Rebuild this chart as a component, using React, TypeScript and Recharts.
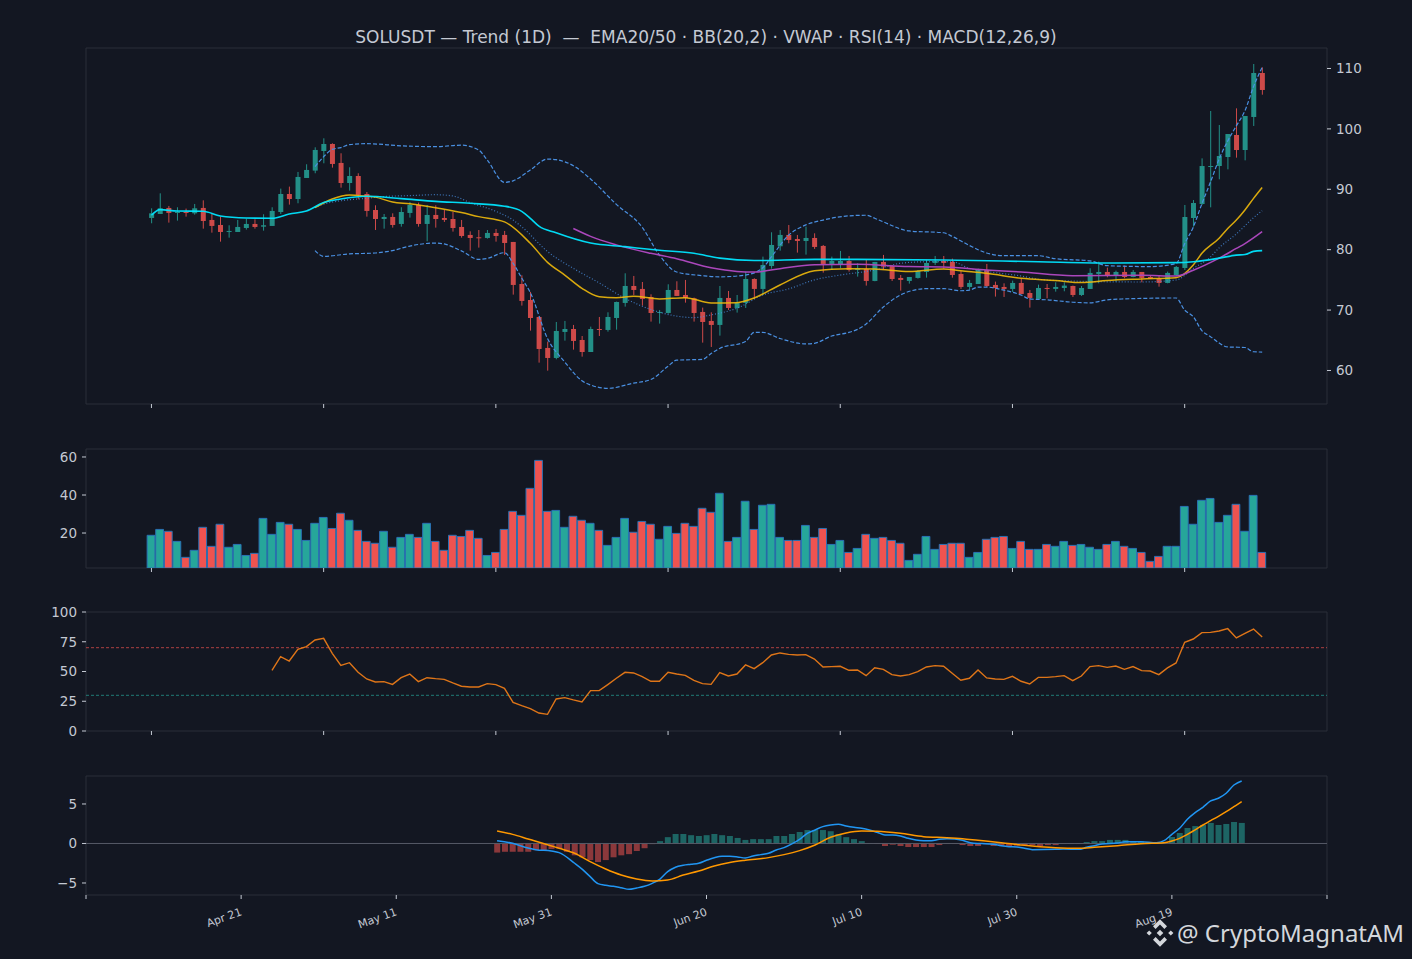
import React from 'react';
import {
    Bar,
    Cell,
    ComposedChart,
    Line,
    ReferenceArea,
    ReferenceLine,
    XAxis,
    YAxis
} from 'recharts';

const opens = [
    85.25, 85.91, 86.91, 86.08, 86.24, 86.02, 86.91, 84.92, 84.09, 82.99,
    82.93, 83.59, 84.26, 83.81, 83.93, 86.24, 89.22, 88.39, 91.87, 93.09,
    96.34, 97.5, 94.36, 91.04, 92.2, 89.22, 86.57, 85.08, 85.42, 84.26,
    86.08, 87.4, 84.26, 85.75, 85.25, 85.08, 83.76, 82.44, 82.05, 81.94,
    82.77, 82.44, 81.28, 74.32, 71.67, 68.86, 63.73, 62.07, 66.38, 66.87,
    65.05, 63.06, 66.87, 66.71, 68.69, 71.18, 73.99, 73.5, 72.17, 69.58,
    69.52, 73.33, 72.5, 71.95, 69.69, 68.2, 67.54, 72.01, 70.35, 71.18,
    75.15, 73.5, 77.3, 80.56, 82.44, 81.77, 81.44, 81.94, 80.62, 77.64,
    77.58, 78.13, 76.64, 76.81, 74.82, 77.97, 77.3, 75.32, 74.82, 75.32,
    76.31, 77.8, 78.13, 77.97, 75.98, 73.83, 74.32, 76.64, 74.16, 73.83,
    73.5, 74.49, 72.83, 71.84, 73.66, 73.5, 73.66, 73.99, 72.5, 73.5,
    75.98, 76.31, 75.81, 76.31, 75.48, 76.31, 75.48, 75.21, 74.49, 75.81,
    76.97, 85.24, 87.56, 93.74, 93.85, 95.34, 98.99, 96.5, 101.97, 109.25
];
const closes = [
    86.02, 86.85, 86.08, 86.3, 86.08, 86.85, 84.75, 83.93, 82.93, 83.1,
    83.76, 84.26, 83.76, 84.04, 86.41, 89.22, 88.39, 92.04, 93.2, 96.51,
    97.5, 94.19, 91.04, 92.2, 89.06, 86.41, 85.08, 85.42, 84.09, 86.24,
    87.4, 84.26, 85.75, 85.08, 84.92, 83.59, 82.27, 81.94, 81.99, 82.77,
    82.27, 81.11, 74.16, 71.51, 68.69, 63.56, 62.07, 66.54, 66.87, 64.89,
    63.06, 66.87, 66.76, 68.86, 71.34, 73.99, 73.33, 71.84, 69.52, 69.69,
    73.33, 72.34, 72.01, 69.52, 68.03, 67.54, 72.01, 70.35, 71.18, 75.15,
    73.5, 77.47, 80.78, 82.44, 81.61, 81.44, 81.94, 80.45, 77.64, 78.13,
    78.13, 76.64, 76.92, 74.82, 77.97, 77.19, 75.15, 74.99, 75.48, 76.48,
    77.8, 78.13, 77.8, 75.81, 73.83, 74.49, 76.64, 73.99, 73.66, 73.5,
    74.49, 72.67, 72.01, 73.66, 73.55, 73.83, 74.05, 72.5, 73.66, 76.15,
    76.31, 75.65, 76.31, 75.48, 76.31, 75.32, 75.21, 74.49, 76.15, 77.14,
    85.41, 87.73, 93.85, 93.85, 95.51, 99.15, 96.5, 102.13, 109.25, 106.44
];
const highs = [
    86.85, 89.33, 87.24, 87.02, 86.8, 87.57, 88.17, 85.91, 85.47, 84.04,
    84.92, 85.14, 85.03, 85.86, 87.02, 90.11, 90.44, 92.87, 94.14, 96.95,
    98.44, 97.61, 95.96, 93.64, 92.65, 89.55, 87.35, 85.91, 86.02, 87.02,
    87.9, 87.79, 87.4, 87.35, 86.57, 86.24, 84.92, 83.04, 83.26, 83.26,
    83.43, 83.1, 81.28, 75.76, 73.0, 68.92, 64.78, 68.03, 68.2, 67.54,
    65.71, 67.26, 68.86, 69.63, 71.4, 76.09, 75.65, 74.65, 72.61, 70.02,
    74.27, 74.77, 74.99, 72.06, 70.41, 69.63, 73.99, 73.16, 72.5, 76.37,
    75.26, 78.85, 82.88, 83.26, 84.09, 82.44, 83.82, 82.71, 80.78, 78.85,
    79.79, 78.96, 77.75, 78.3, 77.97, 79.13, 77.47, 75.81, 75.48, 76.64,
    78.3, 78.96, 78.96, 78.52, 76.48, 74.99, 76.86, 77.64, 74.71, 74.43,
    74.88, 75.15, 73.33, 74.21, 74.32, 74.6, 74.6, 74.05, 73.99, 76.92,
    78.02, 77.03, 76.53, 77.36, 76.64, 76.31, 75.65, 75.81, 76.37, 77.3,
    87.4, 88.22, 95.12, 102.96, 100.64, 99.15, 103.4, 102.13, 110.74, 110.19
];
const lows = [
    84.37, 85.91, 84.48, 84.81, 85.47, 85.8, 83.48, 82.82, 81.33, 81.99,
    82.93, 83.32, 83.48, 83.15, 83.93, 85.91, 87.46, 87.68, 91.87, 92.65,
    94.3, 93.58, 90.27, 89.78, 88.34, 85.47, 83.26, 83.48, 83.65, 83.81,
    85.31, 83.81, 81.39, 83.65, 84.59, 82.99, 81.99, 79.84, 80.34, 81.83,
    81.33, 79.12, 72.56, 70.74, 66.6, 61.3, 59.97, 61.85, 64.94, 63.45,
    62.29, 63.06, 65.71, 66.43, 66.76, 70.57, 72.5, 70.74, 68.09, 67.76,
    69.41, 72.34, 71.23, 68.09, 64.61, 63.89, 65.77, 70.02, 69.58, 70.35,
    71.84, 72.5, 76.86, 79.84, 81.06, 79.51, 79.18, 80.12, 76.2, 76.64,
    76.92, 76.37, 75.54, 74.05, 74.77, 76.75, 74.82, 73.22, 74.38, 75.21,
    75.37, 77.47, 76.86, 75.37, 73.5, 73.39, 74.32, 73.83, 72.23, 72.17,
    73.0, 72.67, 70.41, 71.84, 71.95, 73.05, 73.11, 72.17, 72.34, 73.5,
    74.43, 75.43, 74.71, 75.26, 75.43, 74.6, 75.15, 73.88, 74.43, 75.65,
    76.63, 83.81, 87.4, 87.01, 91.65, 93.3, 95.23, 94.79, 100.48, 105.66
];
const volumes = [
    18.8, 21.9, 20.9, 15.6, 7.2, 10.9, 23.0, 13.0, 24.6, 12.5,
    14.0, 8.2, 9.3, 27.7, 19.3, 25.6, 24.6, 21.9, 16.1, 25.1,
    28.2, 22.4, 30.4, 26.7, 21.4, 15.6, 14.6, 20.9, 12.5, 17.7,
    19.3, 17.7, 25.1, 15.6, 10.9, 18.8, 18.2, 21.4, 17.2, 8.2,
    9.8, 21.9, 31.4, 29.3, 43.5, 58.2, 31.4, 31.9, 23.0, 28.8,
    26.7, 25.1, 21.4, 13.5, 17.7, 27.7, 20.4, 26.1, 24.6, 16.7,
    23.5, 19.8, 25.1, 23.5, 33.0, 30.9, 40.9, 15.6, 17.7, 36.7,
    21.9, 34.6, 35.1, 17.7, 16.1, 16.1, 24.0, 17.7, 22.4, 14.0,
    16.1, 9.8, 11.9, 19.3, 17.2, 17.7, 16.1, 14.6, 5.6, 8.8,
    18.2, 11.4, 14.0, 14.6, 14.6, 7.2, 9.8, 16.7, 17.7, 18.2,
    11.9, 15.6, 11.4, 11.4, 14.0, 13.0, 15.6, 13.5, 14.0, 12.5,
    11.4, 14.0, 15.6, 13.0, 11.9, 9.8, 5.1, 7.7, 13.0, 13.0,
    34.0, 24.6, 37.2, 38.2, 25.6, 29.3, 35.1, 20.9, 39.8, 9.8
];
const rsiStart = 14;
const rsiValues = [
    51, 62.5, 58.8, 68.6, 70.9, 76.5, 77.9, 65.3, 55.2, 57.4,
    49.3, 43.7, 41.2, 41.5, 39.2, 44.8, 47.9, 41.5, 44.8, 44,
    43.4, 40.4, 37.6, 37, 37, 39.8, 39, 35.9, 24.1, 21.3,
    18.8, 15.1, 14, 26.9, 28, 26.1, 24.4, 33.9, 33.9, 39,
    44.3, 49.3, 48.8, 45.7, 41.8, 41.8, 49.3, 47.9, 46.8, 42.6,
    39.8, 39.2, 49, 46.2, 47.9, 55.5, 52.4, 57.4, 63.9, 65.6,
    64.4, 63.9, 64.2, 60.5, 53.8, 54.1, 54.4, 51, 51.3, 46.5,
    53.2, 51.8, 47.4, 46.2, 47.4, 49.9, 53.8, 54.9, 54.4, 48.5,
    42.6, 44.3, 51.3, 44.6, 43.7, 43.4, 45.9, 41.8, 39.5, 45.1,
    45.1, 45.7, 46.5, 42.3, 46.2, 54.1, 54.9, 53.5, 54.6, 51.8,
    54.1, 50.7, 50.4, 47.4, 53, 57.2, 74.5, 77.3, 82.7, 82.9,
    84, 86, 78.2, 82.1, 85.7, 79
];

// [candle index, value] at the points where the curve bends
const vwapPts = [
    [0, 85.7], [1, 86.63], [3, 86.4], [6, 86.35], [8, 85.58], [11, 85.25], [14, 85.2], [16, 85.9], [18, 86.4],
    [20, 87.8], [22, 88.4], [25, 88.84], [29, 88.45], [33, 88], [37, 87.68], [41, 87.2], [43, 86.35], [44, 85.2],
    [45, 83.9], [47, 82.8], [51, 81.1], [55, 80.5], [59, 79.9], [63, 79.4], [66, 78.6], [70, 78.2], [77, 78.4],
    [82, 78.4], [92, 78.3], [103, 78], [111, 77.8], [119, 77.85], [121, 78], [124, 78.6], [126, 79.1], [127, 79.2],
    [128, 79.72], [129, 79.84]
];
const ema20Pts = [
    [19, 86.96], [21, 88.4], [23, 89.06], [24, 88.95], [26, 88.7], [28, 87.9], [30, 87.6], [33, 86.96], [36, 86.15],
    [38, 85.47], [41, 84.6], [44, 81.06], [46, 77.9], [48, 75.8], [50, 73.6], [52, 72.2], [54, 72.06], [56, 72.3],
    [59, 71.84], [62, 72.06], [65, 71.18], [68, 71.23], [70, 72], [73, 74.16], [77, 76.53], [81, 76.86], [84, 76.8],
    [88, 76.4], [92, 76.8], [94, 76.5], [97, 76.1], [101, 75.26], [105, 74.9], [108, 74.55], [111, 74.9], [115, 75.15],
    [119, 75.36], [121, 77.46], [122, 79.4], [124, 81.9], [125, 83.5], [126, 84.9], [127, 86.57], [128, 88.5], [129, 90.3]
];
const ema50Pts = [
    [49, 83.5], [51, 82.2], [54, 80.8], [58, 79.4], [61, 78.5], [65, 77], [68, 76.4], [70, 76.3], [73, 76.86],
    [77, 77.5], [82, 77.6], [88, 77.2], [92, 77.14], [97, 76.64], [101, 76.3], [107, 75.7], [115, 75.76], [119, 75.64],
    [121, 76.6], [124, 78.6], [126, 80.2], [127, 81], [129, 82.98]
];
const bbUpperPts = [
    [19, 93.75], [20, 95.4], [21, 96.6], [22, 96.9], [23, 97.4], [25, 97.55], [29, 97.2], [33, 97.05], [36, 97.3],
    [38, 96.5], [39, 94.85], [41, 91.15], [42, 91.4], [44, 93.2], [46, 95], [47, 94.9], [49, 93.9], [51, 91.7],
    [54, 87.5], [57, 83.7], [59, 79.1], [61, 76.3], [64, 75.7], [66, 75.5], [69, 75.8], [71, 77], [72, 78.8],
    [74, 82.4], [76, 84.1], [78, 84.9], [81, 85.6], [83, 85.7], [84, 85.2], [85, 84.6], [88, 83.1], [92, 82.8],
    [93, 82.2], [95, 80.7], [97, 79.45], [99, 79], [103, 79], [105, 78.5], [109, 78.15], [111, 77.35], [116, 77.2],
    [119, 77.7], [120, 81], [121, 83.75], [122, 87.6], [123, 91.2], [124, 95], [125, 98], [126, 100.5], [127, 103],
    [128, 107], [129, 110.2]
];
const bbMidPts = [
    [19, 87], [20, 87.55], [22, 88.1], [25, 88.5], [27, 88.8], [30, 88.95], [33, 89.1], [35, 88.9], [37, 87.8],
    [40, 86.35], [42, 84.9], [43, 83.8], [46, 79.7], [49, 76.9], [52, 74.5], [55, 71.95], [58, 70.1], [61, 69],
    [63, 68.75], [65, 69.2], [68, 70.3], [71, 72.5], [74, 73.5], [77, 75], [80, 75.8], [84, 76.64], [87, 77.75],
    [90, 78], [93, 78], [95, 76.9], [98, 76.2], [101, 75.65], [103, 75.1], [107, 74.8], [110, 74.7], [115, 74.65],
    [119, 74.98], [121, 76.9], [123, 78.8], [124, 80.3], [126, 82.6], [128, 85.3], [129, 86.45]
];
const bbLowerPts = [
    [19, 79.85], [20, 78.9], [23, 79.3], [26, 79.45], [28, 79.85], [30, 80.6], [33, 81.1], [34, 80.95], [36, 79.8],
    [38, 78.4], [39, 78.55], [41, 79.5], [42, 77.75], [43, 75.3], [44, 72.9], [46, 65.3], [48, 61.4], [50, 58.3],
    [51, 57.6], [53, 57.05], [56, 57.9], [58, 58.5], [60, 60.7], [61, 61.7], [64, 61.85], [65, 62.8], [66, 63.65],
    [69, 64.8], [70, 66.3], [71, 66.3], [73, 65.3], [76, 64.4], [77, 64.5], [79, 65.7], [81, 66.3], [82, 66.8],
    [83, 67.7], [85, 70.5], [87, 72.5], [90, 73.55], [92, 73.55], [94, 73.2], [95, 73.3], [96, 73.8], [97, 73.8],
    [99, 73.3], [101, 72.5], [102, 71.84], [104, 71.7], [107, 71.3], [109, 71.2], [111, 71.7], [113, 71.85], [119, 72],
    [120, 70], [121, 68.9], [122, 66.6], [123, 65.6], [125, 63.9], [127, 63.8], [128, 63.1], [129, 63.05]
];

// MACD panel runs on its own day axis: day 0 is the left edge, histogram starts at day 53
const macdStartDay = 53;
const macdHist = [
    -1.15, -1.05, -1.05, -1.05, -1.05, -0.85, -0.85, -0.7, -0.65, -1.05,
    -1.5, -1.75, -2.1, -2.35, -2.1, -1.75, -1.5, -1.35, -0.95, -0.6,
    -0.08, 0.3, 0.8, 1.2, 1.2, 1.05, 0.95, 1.05, 1.2, 1.05,
    0.95, 0.7, 0.45, 0.55, 0.55, 0.55, 0.95, 0.95, 1.2, 1.45,
    1.7, 1.7, 1.7, 1.55, 1.2, 0.8, 0.55, 0.3, 0.02, -0.07,
    -0.32, -0.15, -0.32, -0.45, -0.45, -0.45, -0.45, -0.2, -0.07, -0.07,
    -0.2, -0.32, -0.32, -0.1, -0.32, -0.28, -0.32, -0.28, -0.2, -0.2,
    -0.32, -0.2, -0.2, -0.07, -0.07, -0.07, 0.18, 0.3, 0.3, 0.45,
    0.45, 0.45, 0.3, 0.3, 0.18, 0.18, 0.18, 0.82, 1.33, 1.96,
    2.2, 2.34, 2.6, 2.34, 2.47, 2.72, 2.6
];
const macdLinePts = [
    [0, 0.36], [2, 0.02], [4, -0.57], [5, -0.78], [7, -0.95], [8, -1.16], [10, -2.5], [11, -3.27], [12, -4.2],
    [13, -5.08], [14, -5.3], [15, -5.42], [16, -5.6], [17, -5.8], [18, -5.63], [19, -5.42], [20, -5.04], [21, -4.5],
    [22, -3.56], [23, -3], [24, -2.76], [25, -2.63], [26, -2.5], [27, -2.13], [28, -1.8], [29, -1.62], [30, -1.62],
    [31, -1.7], [32, -1.83], [33, -1.58], [34, -1.41], [35, -1.24], [36, -0.82], [37, -0.53], [38, -0.06], [39, 0.53],
    [40, 1.29], [41, 1.71], [42, 2.13], [43, 2.34], [44, 2.43], [45, 2.22], [46, 2.05], [47, 1.92], [48, 1.71],
    [49, 1.41], [50, 1.08], [51, 1.08], [52, 0.95], [53, 0.65], [54, 0.44], [55, 0.36], [56, 0.36], [57, 0.53],
    [58, 0.61], [59, 0.57], [60, 0.4], [61, 0.1], [62, 0], [63, -0.02], [64, -0.11], [65, -0.28], [66, -0.4],
    [67, -0.44], [68, -0.61], [69, -0.78], [72, -0.74], [73, -0.7], [75, -0.74], [76, -0.49], [77, -0.28], [78, -0.06],
    [80, 0.06], [81, 0.23], [83, 0.23], [85, 0.1], [86, 0.36], [87, 1.16], [88, 1.92], [89, 3.06], [90, 3.9],
    [91, 4.58], [92, 5.38], [93, 5.72], [94, 6.35], [95, 7.4], [96, 7.91]
];
const macdSignalPts = [
    [0, 1.58], [2, 1.15], [4, 0.57], [8, -0.61], [10, -1.24], [12, -2.3], [14, -3.23], [16, -3.99], [18, -4.49],
    [20, -4.74], [22, -4.62], [24, -3.99], [26, -3.48], [28, -2.85], [30, -2.42], [32, -2.13], [35, -1.79], [37, -1.41],
    [39, -0.9], [41, -0.19], [43, 0.78], [45, 1.33], [47, 1.58], [49, 1.55], [52, 1.29], [55, 0.86], [58, 0.74],
    [60, 0.61], [62, 0.4], [65, 0.1], [68, -0.23], [70, -0.4], [72, -0.53], [75, -0.61], [77, -0.49], [80, -0.28],
    [83, -0.02], [86, 0.1], [87, 0.32], [88, 0.65], [89, 1.16], [90, 1.71], [91, 2.34], [92, 2.89], [93, 3.44],
    [94, 4.03], [95, 4.66], [96, 5.29]
];

const candleTicks = [0, 20, 40, 60, 80, 100, 120];
const priceTicks = [60, 70, 80, 90, 100, 110];
const volumeTicks = [20, 40, 60];
const rsiTicks = [0, 25, 50, 75, 100];
const macdTicks = [-5, 0, 5];
const dayTicks = [0, 20, 40, 60, 80, 100, 120, 140, 160];
const dayLabels = ['', 'Apr 21', 'May 11', 'May 31', 'Jun 20', 'Jul 10', 'Jul 30', 'Aug 19', ''];

const BG = '#131722';
const FRAME = '#2a2e39';
const TEXT = '#c4c9d3';
const UP = '#26a69a';
const DOWN = '#ef5350';
const FONT = '"DejaVu Sans", sans-serif';
const candleDomain = [-7.6, 136.53];

const place = (rows: any[], key: string, pts: number[][]) => {
    pts.forEach(([i, v]) => {
        rows[i][key] = v;
    });
};

const rows: any[] = opens.map((open, i) => ({
    i,
    open,
    close: closes[i],
    range: [lows[i], highs[i]],
    volume: volumes[i],
    rsi: i >= rsiStart ? rsiValues[i - rsiStart] : null
}));
place(rows, 'vwap', vwapPts);
place(rows, 'ema20', ema20Pts);
place(rows, 'ema50', ema50Pts);
place(rows, 'bbUpper', bbUpperPts);
place(rows, 'bbMid', bbMidPts);
place(rows, 'bbLower', bbLowerPts);

const macdRows: any[] = macdHist.map((hist, j) => ({ day: macdStartDay + j, hist }));
place(macdRows, 'macd', macdLinePts);
place(macdRows, 'signal', macdSignalPts);

const Candle = (props: any) => {
    const { x, y, width, height, payload } = props;
    const [low, high] = payload.range;
    const top = Math.min(y, y + height);
    const unit = Math.abs(height) / (high - low);
    const yOf = (v: number) => top + (high - v) * unit;
    const color = payload.close >= payload.open ? UP : DOWN;
    const bodyTop = yOf(Math.max(payload.open, payload.close));
    const bodyH = Math.max(Math.abs(payload.open - payload.close) * unit, 1);
    const cx = x + width / 2;
    return (
        <g opacity={0.85}>
            <line x1={cx} x2={cx} y1={top} y2={top + Math.abs(height)} stroke={color} strokeWidth={1} />
            <rect x={x} y={bodyTop} width={width} height={bodyH} fill={color} />
        </g>
    );
};

const DateTick = (props: any) => {
    const { x, y, index } = props;
    return (
        <text
            x={x}
            y={y + 14}
            textAnchor="end"
            fontSize={11}
            fontFamily={FONT}
            fill={TEXT}
            transform={`rotate(-20 ${x} ${y + 10})`}
        >
            {dayLabels[index]}
        </text>
    );
};

const tickStyle = { fill: TEXT, fontSize: 13.5, fontFamily: FONT };
const blank = () => '';
const withMinus = (v: number) => String(v).replace('-', '\u2212');

export default function App() {
    const xAxisProps = {
        dataKey: 'i',
        type: 'number' as const,
        domain: candleDomain,
        ticks: candleTicks,
        allowDataOverflow: true,
        axisLine: false,
        tickSize: 4,
        height: 10,
        tick: { fontSize: 1 },
        tickFormatter: blank,
        tickLine: { stroke: TEXT }
    };
    const yAxisProps = {
        type: 'number' as const,
        allowDataOverflow: true,
        axisLine: false,
        tickSize: 4,
        tickMargin: 5,
        width: 50,
        interval: 0 as const,
        tick: tickStyle,
        tickLine: { stroke: TEXT }
    };
    return (
        <div style={{ position: 'absolute', left: 0, top: 0, width: 1412, height: 959, background: BG, overflow: 'hidden' }}>
            <div
                style={{
                    position: 'absolute',
                    left: 0,
                    width: 1412,
                    top: 27,
                    textAlign: 'center',
                    whiteSpace: 'pre',
                    color: TEXT,
                    fontFamily: FONT,
                    fontSize: 17
                }}
            >
                {'SOLUSDT — Trend (1D)  —  EMA20/50 · BB(20,2) · VWAP · RSI(14) · MACD(12,26,9)'}
            </div>

            {/* price */}
            <div style={{ position: 'absolute', left: 0, top: 0 }}>
                <ComposedChart width={1412} height={420} data={rows} margin={{ top: 48, right: 35, bottom: 6, left: 86 }}>
                    <XAxis {...xAxisProps} />
                    <YAxis {...yAxisProps} orientation="right" domain={[54.45, 113.39]} ticks={priceTicks} />
                    <ReferenceArea x1={candleDomain[0]} x2={candleDomain[1]} y1={54.45} y2={113.39} fill="none" stroke={FRAME} />
                    <Bar dataKey="range" barSize={5} shape={Candle} isAnimationActive={false} />
                    <Line type="monotone" dataKey="bbUpper" stroke="#4a90e2" strokeWidth={1.2} strokeDasharray="4 2" dot={false} connectNulls isAnimationActive={false} />
                    <Line type="monotone" dataKey="bbLower" stroke="#4a90e2" strokeWidth={1.2} strokeDasharray="4 2" dot={false} connectNulls isAnimationActive={false} />
                    <Line type="monotone" dataKey="bbMid" stroke="#4a90e2" strokeOpacity={0.8} strokeWidth={1.2} strokeDasharray="1 2" dot={false} connectNulls isAnimationActive={false} />
                    <Line type="monotone" dataKey="ema20" stroke="#f0b90b" strokeOpacity={0.9} strokeWidth={1.5} dot={false} connectNulls isAnimationActive={false} />
                    <Line type="monotone" dataKey="ema50" stroke="#ab47bc" strokeWidth={1.5} dot={false} connectNulls isAnimationActive={false} />
                    <Line type="monotone" dataKey="vwap" stroke="#00e5ff" strokeOpacity={0.95} strokeWidth={1.6} dot={false} connectNulls isAnimationActive={false} />
                </ComposedChart>
            </div>

            {/* volume */}
            <div style={{ position: 'absolute', left: 0, top: 440 }}>
                <ComposedChart width={1412} height={140} data={rows} margin={{ top: 9, right: 85, bottom: 2, left: 36 }}>
                    <XAxis {...xAxisProps} />
                    <YAxis {...yAxisProps} domain={[1.6, 64.2]} ticks={volumeTicks} />
                    <ReferenceArea x1={candleDomain[0]} x2={candleDomain[1]} y1={1.6} y2={64.2} fill="none" stroke={FRAME} />
                    <Bar dataKey="volume" barSize={7.8} stroke="#2a72b5" strokeWidth={1} isAnimationActive={false}>
                        {rows.map((r) => (
                            <Cell key={r.i} fill={r.close >= r.open ? UP : DOWN} />
                        ))}
                    </Bar>
                </ComposedChart>
            </div>

            {/* rsi */}
            <div style={{ position: 'absolute', left: 0, top: 603 }}>
                <ComposedChart width={1412} height={140} data={rows} margin={{ top: 9, right: 85, bottom: 2, left: 36 }}>
                    <XAxis {...xAxisProps} />
                    <YAxis {...yAxisProps} domain={[0, 100]} ticks={rsiTicks} />
                    <ReferenceArea x1={candleDomain[0]} x2={candleDomain[1]} y1={0} y2={100} fill="none" stroke={FRAME} />
                    <ReferenceLine y={70} stroke={DOWN} strokeOpacity={0.7} strokeDasharray="3 2" />
                    <ReferenceLine y={30} stroke={UP} strokeOpacity={0.7} strokeDasharray="3 2" />
                    <Line dataKey="rsi" stroke="#f57f17" strokeWidth={1.4} strokeOpacity={0.9} dot={false} isAnimationActive={false} />
                </ComposedChart>
            </div>

            {/* macd */}
            <div style={{ position: 'absolute', left: 0, top: 767 }}>
                <ComposedChart width={1412} height={192} data={macdRows} margin={{ top: 9, right: 85, bottom: 14, left: 36 }}>
                    <XAxis
                        dataKey="day"
                        type="number"
                        domain={[0, 160]}
                        ticks={dayTicks}
                        allowDataOverflow
                        axisLine={false}
                        tickSize={4}
                        height={50}
                        interval={0}
                        tick={DateTick}
                        tickLine={{ stroke: TEXT }}
                    />
                    <YAxis {...yAxisProps} domain={[-6.52, 8.54]} ticks={macdTicks} tickFormatter={withMinus} />
                    <ReferenceArea x1={0} x2={160} y1={-6.52} y2={8.54} fill="none" stroke={FRAME} />
                    <ReferenceLine y={0} stroke="#565a66" />
                    <Bar dataKey="hist" barSize={6} fillOpacity={0.55} isAnimationActive={false}>
                        {macdRows.map((r) => (
                            <Cell key={r.day} fill={r.hist >= 0 ? UP : DOWN} />
                        ))}
                    </Bar>
                    <Line type="monotone" dataKey="macd" stroke="#2196f3" strokeWidth={1.5} dot={false} connectNulls isAnimationActive={false} />
                    <Line type="monotone" dataKey="signal" stroke="#ff9800" strokeWidth={1.5} dot={false} connectNulls isAnimationActive={false} />
                </ComposedChart>
            </div>

            {/* watermark */}
            <svg style={{ position: 'absolute', left: 1146, top: 919 }} width={28} height={28} viewBox="-14 -14 28 28">
                <g fill="#d4d7dc">
                    <polygon points="0,-13.7 7,-6.7 4.4,-4.1 0,-8.5 -4.4,-4.1 -7,-6.7" />
                    <polygon points="0,13.7 7,6.7 4.4,4.1 0,8.5 -4.4,4.1 -7,6.7" />
                    <polygon points="0,-3.3 3.3,0 0,3.3 -3.3,0" />
                    <polygon points="-10.8,-2.6 -8.2,0 -10.8,2.6 -13.4,0" />
                    <polygon points="10.8,-2.6 13.4,0 10.8,2.6 8.2,0" />
                </g>
            </svg>
            <div
                style={{
                    position: 'absolute',
                    left: 1177,
                    top: 917,
                    color: '#d4d7dc',
                    fontFamily: '"Noto Sans", sans-serif',
                    fontSize: 24,
                    lineHeight: '32px',
                    whiteSpace: 'pre'
                }}
            >
                {'@ CryptoMagnatAM'}
            </div>
        </div>
    );
}
